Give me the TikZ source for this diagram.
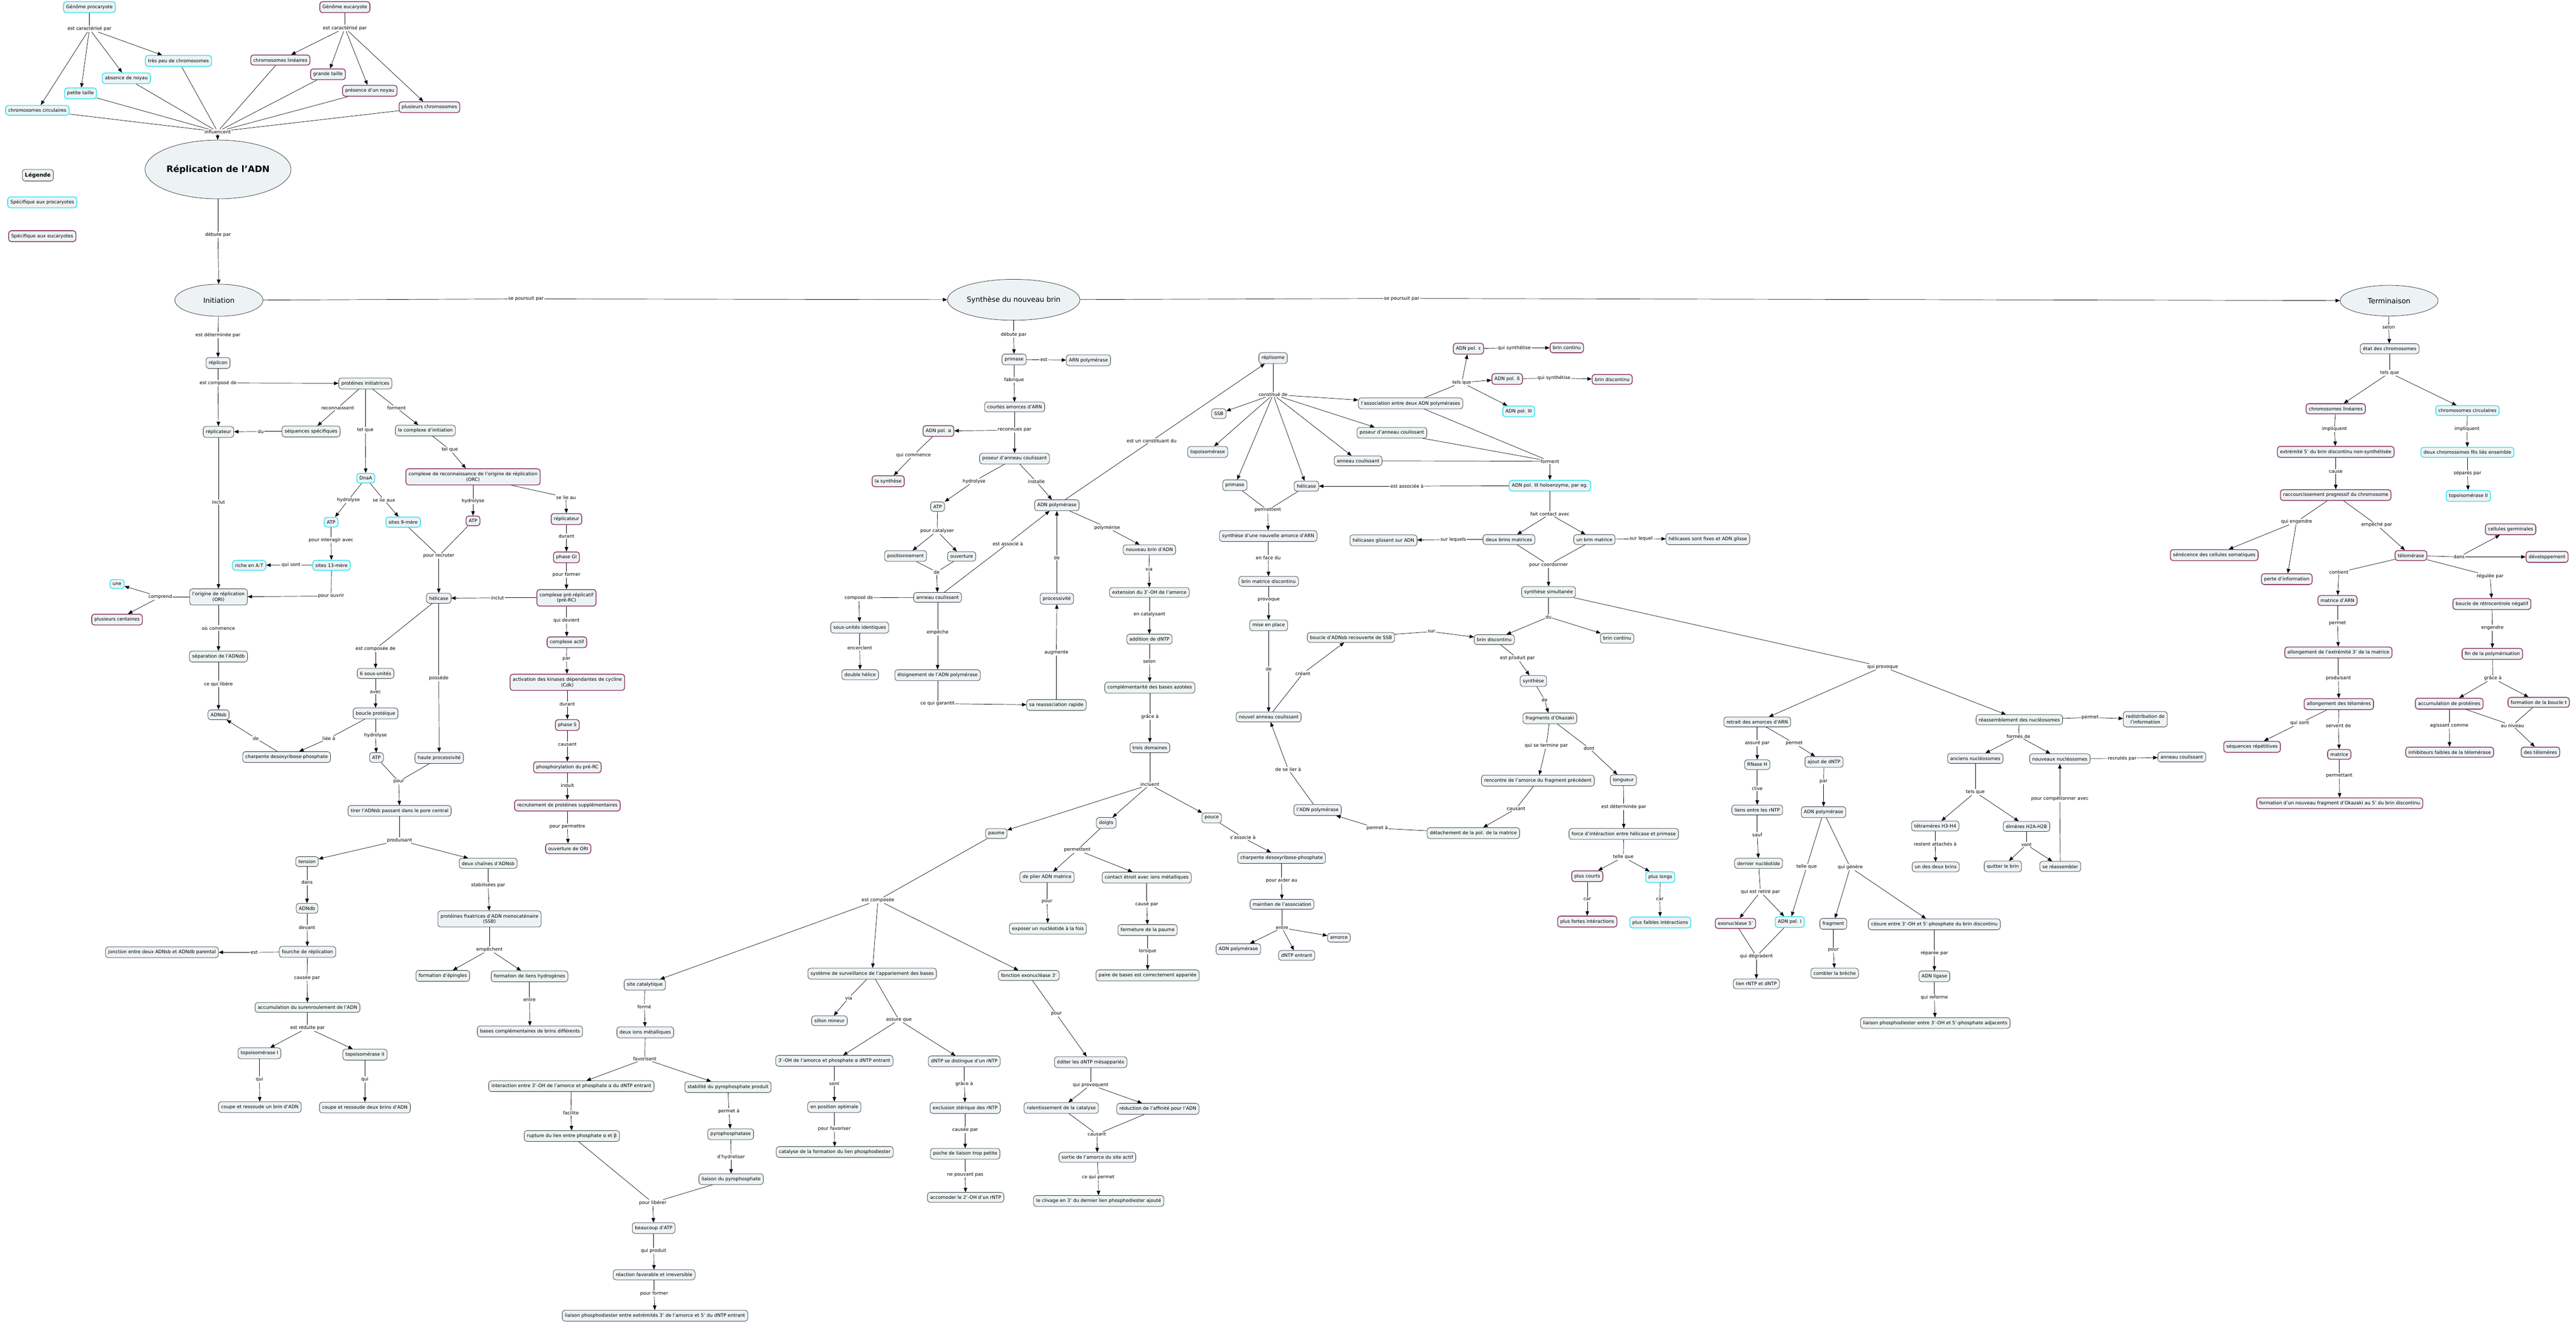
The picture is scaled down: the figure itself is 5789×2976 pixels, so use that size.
\documentclass[tikz,border=0pt]{standalone}
\usepackage{fontspec}
\setmainfont{DejaVu Sans}
\usetikzlibrary{arrows.meta,shapes.geometric}
\definecolor{fillc}{HTML}{EDF3F5}
\definecolor{proc}{HTML}{35E3EF}
\definecolor{euc}{HTML}{8E3B64}
\tikzset{
 box/.style={draw=black!80,fill=fillc,rounded corners=6pt,line width=0.9pt,inner xsep=6pt,inner ysep=7pt,font=\fontsize{10.5}{12.5}\selectfont,align=center},
 P/.style={draw=proc,line width=1.8pt},
 Eu/.style={draw=euc,line width=1.8pt},
 ell/.style={ellipse,draw=black!80,fill=fillc,line width=0.9pt,inner sep=0pt},
 lab/.style={fill=white,inner sep=1.5pt,font=\fontsize{10.5}{12.5}\selectfont},
 ln/.style={line width=0.8pt},
 ar/.style={line width=0.8pt,-{Triangle[length=10pt,width=8pt]}}
}
\newcommand\C[4][]{\node[box,#1] (#2) at (#3) {#4};}
\newcommand\Lb[3]{\node[lab] (#1) at (#2) {#3};}
\newcommand\Ed[3]{\foreach \s in {#1}{\draw[ln] (\s) -- (#2);}\foreach \t in {#3}{\draw[ar] (#2) -- (\t);}}
\begin{document}
\begin{tikzpicture}[x=1pt,y=-1pt]
\useasboundingbox (0,0) rectangle (5789,2976);
% ---------- top
\C[P]{gp}{201,16}{Génôme procaryote}
\Lb{l1}{201,65}{est caractérisé par}
\C[P]{tp}{401,137}{très peu de chromosomes}
\C[P]{an}{284,176}{absence de noyau}
\C[P]{pt}{181,210}{petite taille}
\C[P]{cc}{84,248}{chromosomes circulaires}
\C[Eu]{ge}{775,16}{Génôme eucaryote}
\Lb{l2}{775,63}{est caractérisé par}
\C[Eu]{cl}{630,135}{chromosomes linéaires}
\C[Eu]{gt}{737,167}{grande taille}
\C[Eu]{pn}{831,204}{présence d'un noyau}
\C[Eu]{pc}{965,241}{plusieurs chromosomes}
\Lb{l3}{489,296}{influencent}
\node[ell,minimum width=263pt,minimum height=132pt,font=\fontsize{20}{24}\selectfont\bfseries] (repl) at (490,381) {Réplication de l'ADN};
\C[font=\fontsize{12}{14}\selectfont\bfseries]{leg}{85,394}{Légende}
\C[P]{sp}{95,455}{Spécifique aux procaryotes}
\C[Eu]{seu}{95,531}{Spécifique aux eucaryotes}
\Lb{l4}{490,528}{débute par}
\node[ell,minimum width=198pt,minimum height=72pt,font=\fontsize{16}{19}\selectfont] (init) at (492,675) {Initiation};
\Lb{l5}{1182,672}{se poursuit par}
\node[ell,minimum width=267pt,minimum height=92pt,font=\fontsize{16}{19}\selectfont] (synth) at (2278,674) {Synthèse du nouveau brin};
\Lb{l6}{3150,671}{se poursuit par}
\node[ell,minimum width=220pt,minimum height=69pt,font=\fontsize{16}{19}\selectfont] (term) at (5369,676) {Terminaison};
\Ed{gp}{l1}{cc,pt,an,tp}
\Ed{ge}{l2}{cl,gt,pn,pc}
\Ed{cc,pt,an,tp,cl,gt,pn,pc}{l3}{repl}
\Ed{repl}{l4}{init}
\Ed{init}{l5}{synth}
\Ed{synth}{l6}{term}
% ---------- initiation
\Lb{i1}{490,754}{est déterminée par}
\C{rep}{490,816}{réplicon}
\Lb{i2}{490,861}{est composé de}
\C{prot}{821,862}{protéines initiatrices}
\Lb{i3}{759,917}{reconnaissent}
\Lb{i4}{891,917}{forment}
\Lb{i5}{821,967}{tel que}
\C{rpt}{491,971}{réplicateur}
\Lb{i6}{586,970}{du}
\C{seq}{699,970}{séquences spécifiques}
\C{cin}{956,968}{le complexe d'initiation}
\Lb{i7}{1011,1011}{tel que}
\C[Eu]{orc}{1063,1072}{complexe de reconnaissance de l'origine de réplication\\(ORC)}
\C[P]{dna}{822,1075}{DnaA}
\Lb{i8}{783,1124}{hydrolyse}
\Lb{i9}{863,1124}{se lie aux}
\Lb{i10}{1063,1127}{hydrolyse}
\Lb{i11}{1272,1118}{se lie au}
\C[P]{atpa}{744,1174}{ATP}
\C[P]{s9}{906,1174}{sites 9-mère}
\C[Eu]{atpb}{1063,1171}{ATP}
\C[Eu]{rpe}{1273,1167}{réplicateur}
\Lb{i12}{491,1129}{inclut}
\Lb{i13}{1273,1205}{durant}
\Lb{i14}{744,1214}{pour interagir avec}
\Lb{i15}{986,1250}{pour recruter}
\C[Eu]{pg1}{1273,1253}{phase GI}
\C[P]{rich}{560,1271}{riche en A:T}
\Lb{i16}{654,1270}{qui sont}
\C[P]{s13}{745,1271}{sites 13-mère}
\Lb{i17}{1273,1292}{pour former}
\Lb{i18}{744,1340}{pour ouvrir}
\C{ori}{491,1342}{l'origine de réplication\\(ORI)}
\Lb{i19}{360,1342}{comprend}
\C[P]{une}{263,1313}{une}
\C[Eu]{plc}{263,1393}{plusieurs centaines}
\C{hel}{986,1345}{hélicase}
\Lb{i20}{1118,1344}{inclut}
\C[Eu]{prc}{1273,1344}{complexe pré-réplicatif\\(pré-RC)}
\Lb{i21}{491,1412}{où commence}
\Lb{i22}{1273,1395}{qui devient}
\C[Eu]{cac}{1274,1444}{complexe actif}
\Ed{init}{i1}{rep}
\Ed{rep}{i2}{prot,rpt}
\Ed{prot}{i3}{seq}
\Ed{prot}{i4}{cin}
\Ed{prot}{i5}{dna}
\Ed{seq}{i6}{rpt}
\Ed{cin}{i7}{orc}
\Ed{dna}{i8}{atpa}
\Ed{dna}{i9}{s9}
\Ed{orc}{i10}{atpb}
\Ed{orc}{i11}{rpe}
\Ed{rpt}{i12}{ori}
\Ed{rpe}{i13}{pg1}
\Ed{atpa}{i14}{s13}
\Ed{s9,atpb}{i15}{hel}
\Ed{pg1}{i17}{prc}
\Ed{s13}{i16}{rich}
\Ed{s13}{i18}{ori}
\Ed{ori}{i19}{une,plc}
\Ed{prc}{i20}{hel}
\Ed{prc}{i22}{cac}
\C{sep}{491,1476}{séparation de l'ADNdb}
\Ed{ori}{i21}{sep}
\Lb{j1}{844,1459}{est composée de}
\C{s6}{844,1514}{6 sous-unités}
\Lb{j2}{986,1525}{possède}
\Lb{j3}{1273,1482}{par}
\C[Eu]{cdk}{1275,1534}{activation des kinases dépendantes de cycline\\(Cdk)}
\Lb{j4}{491,1538}{ce qui libère}
\Lb{j5}{844,1556}{avec}
\Lb{j6}{1275,1583}{durant}
\C{adnsb}{491,1607}{ADNsb}
\C{bp}{844,1604}{boucle protéique}
\C[Eu]{phs}{1275,1630}{phase S}
\Lb{j7}{844,1653}{hydrolyse}
\Lb{j8}{575,1660}{de}
\Lb{j9}{739,1660}{liée à}
\Lb{j10}{1275,1673}{causant}
\C{cha}{644,1702}{charpente desoxyribose-phosphate}
\C{atpc}{846,1703}{ATP}
\C{hp}{987,1704}{haute processivité}
\C[Eu]{pho}{1275,1725}{phosphorylation du pré-RC}
\Lb{j11}{896,1757}{pour}
\Lb{j12}{1275,1766}{induit}
\C[Eu]{rec}{1275,1811}{recrutement de protéines supplémentaires}
\C{tir}{898,1823}{tirer l'ADNsb passant dans le pore central}
\Lb{j13}{1275,1858}{pour permettre}
\Lb{j14}{898,1889}{produisant}
\C[Eu]{ouv}{1277,1908}{ouverture de ORI}
\C{ten}{690,1937}{tension}
\C{dch}{1097,1941}{deux chaînes d'ADNsb}
\Lb{j15}{690,1984}{dans}
\Lb{j16}{1097,1990}{stabilisées par}
\C{adndb}{690,2042}{ADNdb}
\C{ssbp}{1100,2066}{protéines fixatrices d'ADN monocaténaire\\(SSB)}
\Lb{j17}{690,2085}{devant}
\C{fou}{691,2140}{fourche de réplication}
\Lb{j18}{571,2141}{est}
\C{jon}{364,2141}{jonction entre deux ADNsb et ADNdb parental}
\Lb{j19}{1100,2135}{empêchent}
\C{epi}{995,2194}{formation d'épingles}
\C{lh}{1190,2195}{formation de liens hydrogènes}
\Lb{j20}{690,2198}{causée par}
\Lb{j21}{1190,2248}{entre}
\C{acc}{691,2265}{accumulation du surenroulement de l'ADN}
\Lb{j22}{691,2311}{est réduite par}
\C{bc}{1191,2319}{bases complémentaires de brins différents}
\C{t1}{583,2368}{topoisomérase I}
\C{t2}{820,2371}{topoisomérase II}
\Lb{j23}{583,2427}{qui}
\Lb{j24}{820,2427}{qui}
\C{cu}{584,2489}{coupe et ressoude un brin d'ADN}
\C{cd}{820,2490}{coupe et ressoude deux brins d'ADN}
\Ed{hel}{j1}{s6}
\Ed{hel}{j2}{hp}
\Ed{cac}{j3}{cdk}
\Ed{sep}{j4}{adnsb}
\Ed{s6}{j5}{bp}
\Ed{cdk}{j6}{phs}
\Ed{bp}{j7}{atpc}
\Ed{cha}{j8}{adnsb}
\Ed{bp}{j9}{cha}
\Ed{phs}{j10}{pho}
\Ed{atpc,hp}{j11}{tir}
\Ed{pho}{j12}{rec}
\Ed{rec}{j13}{ouv}
\Ed{tir}{j14}{ten,dch}
\Ed{ten}{j15}{adndb}
\Ed{dch}{j16}{ssbp}
\Ed{adndb}{j17}{fou}
\Ed{fou}{j18}{jon}
\Ed{ssbp}{j19}{epi,lh}
\Ed{fou}{j20}{acc}
\Ed{lh}{j21}{bc}
\Ed{acc}{j22}{t1,t2}
\Ed{t1}{j23}{cu}
\Ed{t2}{j24}{cd}
% ---------- synthese
\Lb{k1}{2278,752}{débute par}
\C{pri}{2279,808}{primase}
\Lb{k2}{2346,809}{est}
\C{arnp}{2446,810}{ARN polymérase}
\Lb{k3}{2279,854}{fabrique}
\C{cam}{2280,915}{courtes amorces d'ARN}
\Lb{k4}{2280,967}{reconnues par}
\C[Eu]{pola}{2109,969}{ADN pol. α}
\Lb{k5}{2053,1023}{qui commence}
\C[Eu]{lsy}{1996,1082}{la synthèse}
\C{pos1}{2280,1031}{poseur d'anneau coulissant}
\Lb{k6}{2189,1082}{hydrolyse}
\Lb{k7}{2329,1083}{installe}
\C{atpd}{2107,1139}{ATP}
\C{pol1}{2375,1136}{ADN polymérase}
\Lb{k8}{2106,1194}{pour catalyser}
\Lb{k9}{2488,1186}{polymérise}
\Lb{k10}{2265,1222}{est associé à}
\C{posi}{2035,1250}{positionnement}
\C{ouve}{2161,1251}{ouverture}
\Lb{k11}{2105,1286}{de}
\C{nbr}{2583,1236}{nouveau brin d'ADN}
\Lb{k12}{2375,1254}{de}
\Lb{k13}{2582,1279}{via}
\C{ext}{2583,1332}{extension du 3'-OH de l'amorce}
\C{an1}{2107,1343}{anneau coulissant}
\Lb{k14}{1930,1344}{composé de}
\C{proc}{2375,1346}{processivité}
\Lb{k15}{2583,1381}{en catalysant}
\C{sui}{1932,1411}{sous-unités identiques}
\Lb{k16}{2107,1422}{empêche}
\C{add}{2583,1437}{addition de dNTP}
\Lb{k17}{1932,1457}{encerclent}
\Lb{k18}{2374,1467}{augmente}
\Lb{k19}{2583,1487}{selon}
\C{dh}{1933,1517}{double hélice}
\C{elo}{2107,1518}{éloignement de l'ADN polymérase}
\C{comp}{2584,1546}{complémentarité des bases azotées}
\Lb{k20}{2107,1582}{ce qui garantit}
\C{rea}{2374,1585}{sa reassociation rapide}
\Lb{k21}{2584,1612}{grâce à}
\C{tro}{2584,1681}{trois domaines}
\Lb{k22}{2584,1764}{incluent}
\C{pou}{2723,1839}{pouce}
\C{doi}{2486,1850}{doigts}
\C{pau}{2239,1874}{paume}
\Lb{k23}{2793,1883}{s'associe à}
\Lb{k24}{2421,1911}{permettent}
\C{cha2}{2880,1929}{charpente desoxyribose-phosphate}
\C{pli}{2353,1972}{de plier ADN matrice}
\C{con}{2577,1973}{contact étroit avec ions métalliques}
\Lb{k25}{2880,1980}{pour aider au}
\Lb{k26}{1973,2024}{est composée}
\Lb{k27}{2353,2027}{pour}
\Lb{k28}{2577,2033}{causé par}
\C{mai}{2881,2033}{maintien de l'association}
\Lb{k29}{2881,2086}{entre}
\C{exp}{2355,2088}{exposer un nucléotide à la fois}
\C{fer}{2579,2091}{fermeture de la paume}
\C{amo}{3009,2108}{amorce}
\C{pol2}{2783,2134}{ADN polymérase}
\C{dne}{2914,2148}{dNTP entrant}
\Lb{k30}{2579,2139}{lorsque}
\C{pai}{2579,2193}{paire de bases est correctement appariée}
\Ed{synth}{k1}{pri}
\Ed{pri}{k2}{arnp}
\Ed{pri}{k3}{cam}
\Ed{cam}{k4}{pola,pos1}
\Ed{pola}{k5}{lsy}
\Ed{pos1}{k6}{atpd}
\Ed{pos1}{k7}{pol1}
\Ed{atpd}{k8}{posi,ouve}
\Ed{pol1}{k9}{nbr}
\Ed{an1}{k10}{pol1}
\Ed{posi,ouve}{k11}{an1}
\Ed{proc}{k12}{pol1}
\Ed{nbr}{k13}{ext}
\Ed{an1}{k14}{sui}
\Ed{ext}{k15}{add}
\Ed{an1}{k16}{elo}
\Ed{sui}{k17}{dh}
\Ed{rea}{k18}{proc}
\Ed{add}{k19}{comp}
\Ed{elo}{k20}{rea}
\Ed{comp}{k21}{tro}
\Ed{tro}{k22}{pau,doi,pou}
\Ed{pou}{k23}{cha2}
\Ed{doi}{k24}{pli,con}
\Ed{cha2}{k25}{mai}
\Ed{pli}{k27}{exp}
\Ed{con}{k28}{fer}
\Ed{mai}{k29}{pol2,dne,amo}
\Ed{fer}{k30}{pai}
% paume children
\C{sit}{1449,2214}{site catalytique}
\C{sys}{1960,2189}{système de surveillance de l'appariement des bases}
\C{fex}{2312,2193}{fonction exonucléase 3'}
\Ed{pau}{k26}{sit,sys,fex}
\Lb{m1}{1448,2263}{formé}
\C{dio}{1450,2321}{deux ions métalliques}
\Lb{m2}{1449,2381}{favorisent}
\C{int}{1284,2442}{interaction entre 3'-OH de l'amorce et phosphate α du dNTP entrant}
\C{sta}{1636,2444}{stabilité du pyrophosphate produit}
\Lb{m3}{1283,2502}{facilite}
\Lb{m4}{1638,2498}{permet à}
\C{rup}{1285,2554}{rupture du lien entre phosphate α et β}
\C{pyr}{1642,2550}{pyrophosphatase}
\Lb{m5}{1643,2601}{d'hydroliser}
\C{lpy}{1643,2651}{liaison du pyrophosphate}
\Lb{m6}{1467,2704}{pour libérer}
\C{bat}{1469,2761}{beaucoup d'ATP}
\Lb{m7}{1469,2812}{qui produit}
\C{rfi}{1470,2866}{réaction favorable et irreversible}
\Lb{m8}{1470,2908}{pour former}
\C{lpd}{1472,2958}{liaison phosphodiester entre extrémités 3' de l'amorce et 5' du dNTP entrant}
\Ed{sit}{m1}{dio}
\Ed{dio}{m2}{int,sta}
\Ed{int}{m3}{rup}
\Ed{sta}{m4}{pyr}
\Ed{pyr}{m5}{lpy}
\Ed{rup,lpy}{m6}{bat}
\Ed{bat}{m7}{rfi}
\Ed{rfi}{m8}{lpd}
\Lb{m9}{1907,2244}{via}
\C{sil}{1864,2295}{sillon mineur}
\Lb{m10}{2020,2293}{assure que}
\Lb{m11}{2374,2280}{pour}
\C{oh}{1875,2385}{3'-OH de l'amorce et phosphate α dNTP entrant}
\C{dsd}{2167,2386}{dNTP se distingue d'un rNTP}
\C{edi}{2451,2388}{éditer les dNTP mésappariés}
\Lb{m12}{1875,2436}{sont}
\Lb{m13}{2167,2437}{grâce à}
\Lb{m14}{2451,2439}{qui provoquent}
\C{opt}{1875,2489}{en position optimale}
\C{exc}{2169,2491}{exclusion stérique des rNTP}
\C{ral}{2385,2491}{ralentissement de la catalyse}
\C{red}{2602,2493}{réduction de l'affinité pour l'ADN}
\Lb{m15}{1875,2538}{pour favoriser}
\Lb{m16}{2169,2540}{causée par}
\Lb{m17}{2465,2550}{causant}
\C{cat}{1876,2590}{catalyse de la formation du lien phosphodiester}
\C{poc}{2169,2594}{poche de liaison trop petite}
\C{sor}{2466,2602}{sortie de l'amorce du site actif}
\Lb{m18}{2169,2641}{ne pouvant pas}
\Lb{m19}{2468,2647}{ce qui permet}
\C{acm}{2170,2692}{accomoder le 2'-OH d'un rNTP}
\C{cli}{2469,2700}{le clivage en 3' du dernier lien phosphodiester ajouté}
\Ed{sys}{m9}{sil}
\Ed{sys}{m10}{oh,dsd}
\Ed{fex}{m11}{edi}
\Ed{oh}{m12}{opt}
\Ed{dsd}{m13}{exc}
\Ed{edi}{m14}{ral,red}
\Ed{opt}{m15}{cat}
\Ed{exc}{m16}{poc}
\Ed{ral,red}{m17}{sor}
\Ed{poc}{m18}{acm}
\Ed{sor}{m19}{cli}
% replisome
\Lb{r0}{2588,991}{est un constituant du}
\C{rpl}{2861,805}{réplisome}
\Lb{r1}{2861,887}{constitué de}
\C{ssb}{2739,930}{SSB}
\C{top}{2714,1016}{topoisomérase}
\C{pri2}{2775,1091}{primase}
\C{hel2}{2936,1093}{hélicase}
\C{an2}{3052,1036}{anneau coulissant}
\C{pos2}{3128,973}{poseur d'anneau coulissant}
\C{ass}{3170,907}{l'association entre deux ADN polymérases}
\Ed{pol1}{r0}{rpl}
\Ed{rpl}{r1}{ssb,top,pri2,hel2,an2,pos2,ass}
\Lb{r2}{3285,860}{tels que}
\C[Eu]{pe}{3300,784}{ADN pol. ε}
\Lb{r3}{3403,782}{qui synthétise}
\C[Eu]{bce}{3521,782}{brin continu}
\C[Eu]{pd}{3387,852}{ADN pol. δ}
\Lb{r4}{3492,850}{qui synthétise}
\C[Eu]{bde}{3623,853}{brin discontinu}
\C[P]{p3}{3413,925}{ADN pol. III}
\Ed{ass}{r2}{pe,pd,p3}
\Ed{pe}{r3}{bce}
\Ed{pd}{r4}{bde}
\Lb{r5}{3483,1037}{forment}
\C[P]{hol}{3483,1092}{ADN pol. III holoenzyme, par eg.}
\Ed{ass,pos2,an2}{r5}{hol}
\Lb{r6}{3162,1093}{est associée à}
\Ed{hol}{r6}{hel2}
\Lb{r7}{2849,1147}{permettent}
\C{sna}{2850,1205}{synthèse d'une nouvelle amorce d'ARN}
\Lb{r8}{2850,1254}{en face du}
\C{bmd}{2851,1307}{brin matrice discontinu}
\Lb{r9}{2851,1349}{provoque}
\C{mep}{2851,1406}{mise en place}
\Lb{r10}{2851,1504}{de}
\C{nac}{2851,1612}{nouvel anneau coulissant}
\Lb{r11}{2928,1514}{créant}
\C{bou}{3036,1433}{boucle d'ADNsb recouverte de SSB}
\Lb{r12}{3217,1420}{sur}
\Lb{r13}{2895,1730}{de se lier à}
\C{lap}{2961,1821}{l'ADN polymérase}
\Lb{r14}{3095,1862}{permet à}
\Ed{pri2,hel2}{r7}{sna}
\Ed{sna}{r8}{bmd}
\Ed{bmd}{r9}{mep}
\Ed{mep}{r10}{nac}
\Ed{nac}{r11}{bou}
\Ed{lap}{r13}{nac}
\Lb{r15}{3483,1156}{fait contact avec}
\C{dbm}{3391,1213}{deux brins matrices}
\C{ubm}{3583,1213}{un brin matrice}
\Lb{r16}{3266,1213}{sur lequels}
\C{hgl}{3109,1215}{hélicases glissent sur ADN}
\Lb{r17}{3688,1211}{sur lequel}
\C{hsf}{3838,1212}{hélicases sont fixes et ADN glisse}
\Lb{r18}{3480,1270}{pour coordonner}
\C{ssi}{3480,1331}{synthèse simultanée}
\Lb{r19}{3480,1387}{du}
\C{bdi}{3358,1438}{brin discontinu}
\C{bco}{3634,1435}{brin continu}
\Ed{hol}{r15}{dbm,ubm}
\Ed{dbm}{r16}{hgl}
\Ed{ubm}{r17}{hsf}
\Ed{dbm,ubm}{r18}{ssi}
\Ed{ssi}{r19}{bdi,bco}
\Ed{bou}{r12}{bdi}
\Lb{r20}{3410,1480}{est produit par}
\C{sy3}{3446,1531}{synthèse}
\Lb{r21}{3471,1573}{de}
\C{fok}{3483,1615}{fragments d'Okazaki}
\Lb{r22}{3475,1676}{qui se termine par}
\Lb{r23}{3571,1682}{dont}
\C{ren}{3456,1755}{rencontre de l'amorce du fragment précédent}
\C{lon}{3648,1754}{longueur}
\Lb{r24}{3407,1818}{causant}
\Lb{r25}{3649,1814}{est déterminée par}
\C{det}{3311,1873}{détachement de la pol. de la matrice}
\C{for}{3649,1875}{force d'intéraction entre hélicase et primase}
\Lb{r26}{3648,1927}{telle que}
\C[Eu]{pco}{3567,1970}{plus courts}
\C[P]{plo}{3731,1972}{plus longs}
\Lb{r27}{3567,2022}{car}
\Lb{r28}{3730,2022}{car}
\C[Eu]{pfo}{3567,2072}{plus fortes intéractions}
\C[P]{pfa}{3731,2074}{plus faibles intéractions}
\Ed{bdi}{r20}{sy3}
\Ed{sy3}{r21}{fok}
\Ed{fok}{r22}{ren}
\Ed{fok}{r23}{lon}
\Ed{ren}{r24}{det}
\Ed{det}{r14}{lap}
\Ed{lon}{r25}{for}
\Ed{for}{r26}{pco,plo}
\Ed{pco}{r27}{pfo}
\Ed{plo}{r28}{pfa}
% ---------- terminaison side
\Lb{q1}{4231,1499}{qui provoque}
\C{ret}{3949,1623}{retrait des amorces d'ARN}
\C{rea2}{4538,1618}{réassemblement des nucléosomes}
\Ed{ssi}{q1}{ret,rea2}
\Lb{q2}{4697,1613}{permet}
\C{red2}{4821,1617}{redistribution de\\l'information}
\Lb{q3}{3949,1671}{assuré par}
\Lb{q4}{4032,1671}{permet}
\Lb{q5}{4536,1655}{formés de}
\C{rnh}{3949,1719}{RNase H}
\C{adn}{4099,1713}{ajout de dNTP}
\C{anc}{4439,1705}{anciens nucléosomes}
\C{nou}{4629,1706}{nouveaux nucléosomes}
\Lb{q6}{4769,1705}{recrutés par}
\C{an3}{4903,1702}{anneau coulissant}
\Lb{q7}{3949,1773}{clive}
\Lb{q8}{4098,1757}{par}
\Lb{q9}{4439,1781}{tels que}
\Lb{q10}{4629,1796}{pour compétionner avec}
\C{lrn}{3949,1821}{liens entre les rNTP}
\C{pol3}{4098,1826}{ADN polymérase}
\C{tet}{4349,1857}{tétramères H3-H4}
\C{dim}{4554,1858}{dimères H2A-H2B}
\Lb{q11}{3949,1877}{sauf}
\Lb{q12}{4349,1897}{restent attachés à}
\Lb{q13}{4554,1899}{vont}
\C{dnu}{3952,1941}{dernier nucléotide}
\C{udb}{4350,1949}{un des deux brins}
\C{qui}{4501,1948}{quitter le brin}
\C{sre}{4630,1948}{se réassembler}
\Lb{q14}{4060,1949}{telle que}
\Lb{q15}{4158,1950}{qui génère}
\Lb{q16}{3956,2005}{qui est retiré par}
\C[Eu]{ex5}{3900,2076}{exonucléase 5'}
\C[P]{pI}{4022,2073}{ADN pol. I}
\C{fra}{4120,2077}{fragment}
\C{ces}{4347,2078}{césure entre 3'-OH et 5'-phosphate du brin discontinu}
\Lb{q17}{4120,2136}{pour}
\Lb{q18}{3947,2150}{qui dégradent}
\Lb{q19}{4347,2143}{réparée par}
\C{com}{4123,2188}{combler la brèche}
\C{lig}{4347,2195}{ADN ligase}
\C{lrd}{3947,2212}{lien rNTP et dNTP}
\Lb{q20}{4347,2243}{qui reforme}
\C{lpa}{4349,2300}{liaison phosphodiester entre 3'-OH et 5'-phosphate adjacents}
\Ed{rea2}{q2}{red2}
\Ed{ret}{q3}{rnh}
\Ed{ret}{q4}{adn}
\Ed{rea2}{q5}{anc,nou}
\Ed{nou}{q6}{an3}
\Ed{rnh}{q7}{lrn}
\Ed{adn}{q8}{pol3}
\Ed{anc}{q9}{tet,dim}
\Ed{sre}{q10}{nou}
\Ed{lrn}{q11}{dnu}
\Ed{tet}{q12}{udb}
\Ed{dim}{q13}{qui,sre}
\Ed{pol3}{q14}{pI}
\Ed{pol3}{q15}{fra,ces}
\Ed{dnu}{q16}{ex5,pI}
\Ed{fra}{q17}{com}
\Ed{ex5,pI}{q18}{lrd}
\Ed{ces}{q19}{lig}
\Ed{lig}{q20}{lpa}
% ---------- terminaison
\Lb{t1l}{5368,735}{selon}
\C{eta}{5370,784}{état des chromosomes}
\Lb{t2l}{5370,838}{tels que}
\C[Eu]{clt}{5249,919}{chromosomes linéaires}
\C[P]{cct}{5545,923}{chromosomes circulaires}
\Lb{t3l}{5246,965}{impliquent}
\Lb{t4l}{5544,965}{impliquent}
\C[Eu]{ext5}{5249,1016}{extrémité 5' du brin discontinu non-synthétisée}
\C[P]{dcf}{5545,1017}{deux chromosomes fils liés ensemble}
\Lb{t5l}{5249,1060}{cause}
\Lb{t6l}{5545,1064}{séparés par}
\C[Eu]{rac}{5249,1113}{raccourcissement progressif du chromosome}
\C[P]{t2t}{5547,1115}{topoisomérase II}
\Lb{t7l}{5161,1173}{qui engendre}
\Lb{t8l}{5341,1180}{empêché par}
\C[Eu]{cge}{5642,1190}{cellules germinales}
\C[Eu]{sen}{4976,1248}{sénécence des cellules somatiques}
\C[Eu]{tel}{5418,1249}{télomérase}
\Lb{t9l}{5526,1252}{dans}
\C[Eu]{dev}{5724,1252}{développement}
\Lb{t10l}{5256,1287}{contient}
\Lb{t11l}{5596,1295}{régulée par}
\C[Eu]{per}{5139,1302}{perte d'information}
\C[Eu]{mar}{5253,1350}{matrice d'ARN}
\C[Eu]{brn}{5600,1358}{boucle de rétrocontrole négatif}
\Lb{t12l}{5253,1401}{permet}
\Lb{t13l}{5601,1411}{engendre}
\C[Eu]{al3}{5255,1467}{allongement de l'extrémité 3' de la matrice}
\C[Eu]{fin}{5601,1470}{fin de la polymérisation}
\Lb{t14l}{5255,1525}{produisant}
\Lb{t15l}{5602,1525}{grâce à}
\C[Eu]{alt}{5256,1583}{allongement des télomères}
\C[Eu]{acp}{5504,1582}{accumulation de protéines}
\C[Eu]{fbt}{5705,1579}{formation de la boucle t}
\Lb{t16l}{5168,1626}{qui sont}
\Lb{t17l}{5255,1632}{servent de}
\Lb{t18l}{5504,1631}{agissant comme}
\Lb{t19l}{5646,1631}{au niveau}
\C[Eu]{seqr}{5061,1679}{séquences répétitives}
\C[Eu]{mat}{5257,1696}{matrice}
\C[Eu]{inh}{5505,1691}{inhibiteurs faibles de la télomérase}
\C[Eu]{dtl}{5709,1691}{des télomères}
\Lb{t20l}{5257,1744}{permettant}
\C[Eu]{fno}{5258,1806}{formation d'un nouveau fragment d'Okazaki au 5' du brin discontinu}
\Ed{term}{t1l}{eta}
\Ed{eta}{t2l}{clt,cct}
\Ed{clt}{t3l}{ext5}
\Ed{cct}{t4l}{dcf}
\Ed{ext5}{t5l}{rac}
\Ed{dcf}{t6l}{t2t}
\Ed{rac}{t7l}{sen,per}
\Ed{rac}{t8l}{tel}
\Ed{tel}{t9l}{cge,dev}
\Ed{tel}{t10l}{mar}
\Ed{tel}{t11l}{brn}
\Ed{mar}{t12l}{al3}
\Ed{brn}{t13l}{fin}
\Ed{al3}{t14l}{alt}
\Ed{fin}{t15l}{acp,fbt}
\Ed{alt}{t16l}{seqr}
\Ed{alt}{t17l}{mat}
\Ed{acp}{t18l}{inh}
\Ed{acp,fbt}{t19l}{dtl}
\Ed{mat}{t20l}{fno}
\end{tikzpicture}
\end{document}
